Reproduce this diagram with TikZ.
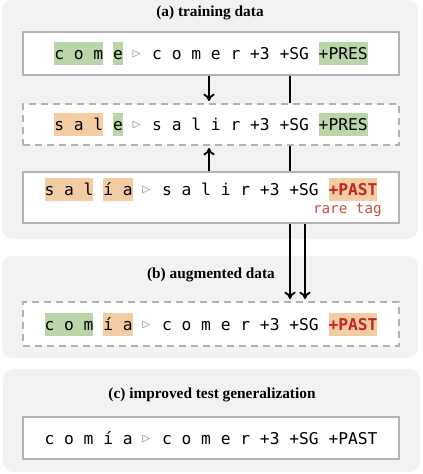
\documentclass[tikz,border=0pt]{standalone}
\usepackage{fontspec}
\setmainfont{Liberation Serif}
\setmonofont{DejaVu Sans Mono}
\usetikzlibrary{arrows.meta}

\definecolor{panelgray}{RGB}{242,242,242}
\definecolor{framegray}{RGB}{178,178,178}
\definecolor{stemgreen}{RGB}{186,213,170}
\definecolor{stemorange}{RGB}{244,204,164}
\definecolor{pastred}{RGB}{196,36,36}
\definecolor{raretag}{RGB}{196,84,64}
\definecolor{trigray}{RGB}{150,150,150}

\setlength{\fboxsep}{0pt}
\newcommand{\hlstrut}{\rule[-3.75pt]{0pt}{17.25pt}}
\newcommand{\hlg}[1]{\colorbox{stemgreen}{\hlstrut#1}}
\newcommand{\hlo}[1]{\colorbox{stemorange}{\hlstrut#1}}
\newcommand{\tri}{\rlap{\raisebox{1.5pt}{\color{trigray}\fontsize{10}{10}\selectfont ▷}}\phantom{x}}
\newcommand{\pasttag}{\textcolor{pastred}{\bfseries +PAST}}

\begin{document}
\begin{tikzpicture}[x=0.75pt, y=-0.75pt,
    panel/.style={fill=panelgray, rounded corners=8pt},
    title/.style={font=\bfseries\fontsize{11.5}{13}\selectfont},
    frame/.style={draw=framegray, line width=1.5pt, fill=white, minimum width=282pt, inner sep=0pt},
    dframe/.style={frame, dash pattern=on 5pt off 4pt},
    word/.style={font=\ttfamily\fontsize{12.2}{14}\selectfont, inner sep=0pt},
    link/.style={line width=1.4pt},
    arrow/.style={link, -{To[length=5.5pt,width=8.5pt]}, shorten >=1.5pt}
]
\useasboundingbox (0,0) rectangle (422,474);

% Panels
\fill[panel] (2,0) rectangle (418,239);
\fill[panel] (2,256) rectangle (418,358);
\fill[panel] (3,369) rectangle (420,472);

% Titres
\node[title] (titleA) at (210,13) {(a) training data};
\node[title] (titleB) at (211,275) {(b) augmented data};
\node[title] (titleC) at (212,395) {(c) improved test generalization};

% Exemples
\node[frame, word, minimum height=32pt] (come) at (211,53.5) {\hlg{c o m} \hlg{e} \tri{} c o m e r +3 +SG \hlg{+PRES}};
\node[dframe, word, minimum height=30.75pt] (sale) at (211,124.5) {\hlo{s a l} \hlg{e} \tri{} s a l i r +3 +SG \hlg{+PRES}};
\node[frame, minimum height=38pt] (salia) at (211,197.5) {};
\node[word] (saliaText) at (211,189) {\hlo{s a l} \hlo{í a} \tri{} s a l i r +3 +SG \hlo{\pasttag}};
\node[font=\ttfamily\fontsize{10.7}{12}\selectfont, text=raretag, anchor=east, inner sep=0pt] (rare) at (382,210) {rare tag};
\node[dframe, word, minimum height=33pt] (comia) at (211,324) {\hlg{c o m} \hlo{í a} \tri{} c o m e r +3 +SG \hlo{\pasttag}};
\node[frame, word, minimum height=31.5pt] (comiaTest) at (211,438) {c o m í a \tri{} c o m e r +3 +SG +PAST};

% Liens
\coordinate (colL) at (209,0);
\coordinate (colM) at (290,0);
\coordinate (colR) at (305,0);
\draw[arrow] (come.south -| colL) -- (sale.north -| colL);
\draw[arrow] (salia.north -| colL) -- (sale.south -| colL);
\draw[link] (come.south -| colM) -- (sale.north -| colM);
\draw[link] (sale.south -| colM) -- (salia.north -| colM);
\draw[arrow] (salia.south -| colM) -- (comia.north -| colM);
\draw[arrow] (salia.south -| colR) -- (comia.north -| colR);

\end{tikzpicture}
\end{document}
